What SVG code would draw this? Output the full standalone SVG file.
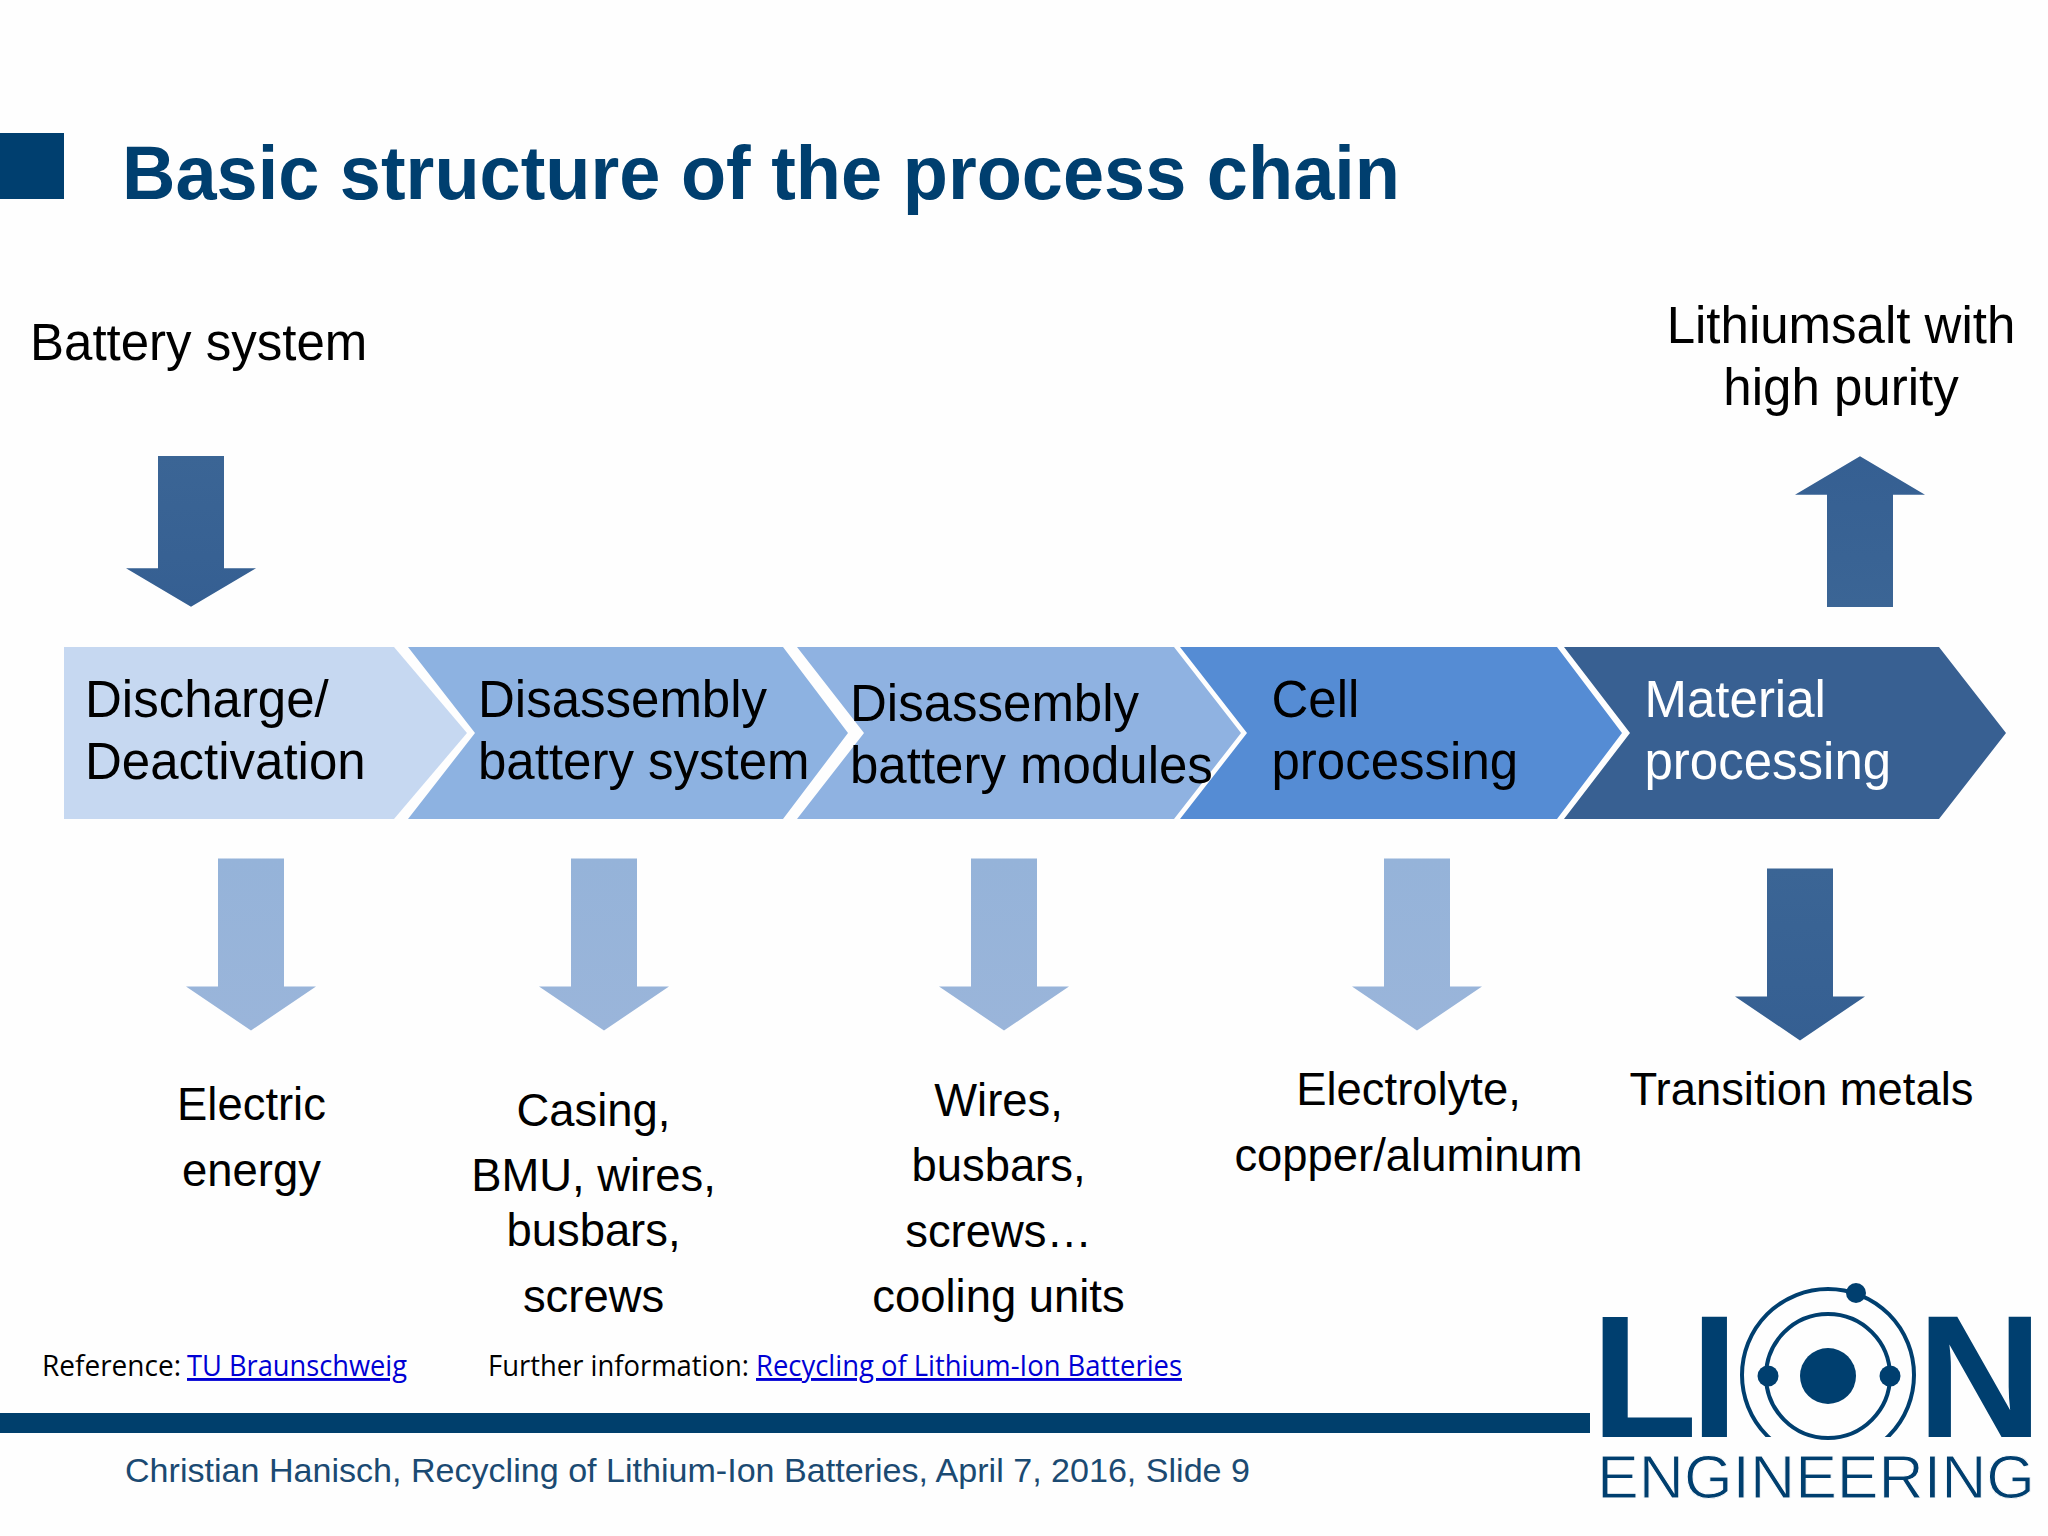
<svg xmlns="http://www.w3.org/2000/svg" width="2048" height="1536" viewBox="0 0 2048 1536">
<style>
text{font-family:"Liberation Sans",Arial,sans-serif}
.t{font-size:51px;fill:#000}
.w{font-size:51px;fill:#fff}
.l{font-size:45.4px;fill:#000;text-anchor:middle}
.f{font-family:"Open Sans","Liberation Sans",sans-serif;font-size:29px;fill:#000}
.a{fill:#0000d4;text-decoration:underline}
.dk{fill:url(#gd)}
.lt{fill:url(#gl)}
.logo{fill:#003f6f}
</style>
<defs>
<linearGradient id="gd" x1="0" y1="0" x2="0" y2="1"><stop offset="0" stop-color="#3b6595"/><stop offset="1" stop-color="#355f92"/></linearGradient>
<linearGradient id="gl" x1="0" y1="0" x2="0" y2="1"><stop offset="0" stop-color="#95b3d9"/><stop offset="1" stop-color="#9ab5da"/></linearGradient>
<path id="down" d="M-33 0H33V128H65L0 172L-65 128H-33Z"/>
<clipPath id="ringclip"><rect x="1700" y="1260" width="260" height="177"/></clipPath>
</defs>
<rect width="2048" height="1536" fill="#fefefe"/>
<g id="header">
<rect x="0" y="133" width="64" height="66" fill="#003f6f"/>
<text x="122" y="199" font-size="76" font-weight="700" fill="#003f6f" textLength="1278" lengthAdjust="spacingAndGlyphs">Basic structure of the process chain</text>
</g>
<g id="input"><text class="t" x="30" y="360">Battery system</text></g>
<g id="output"><text class="t" text-anchor="middle" x="1841" y="343">Lithiumsalt with</text><text class="t" text-anchor="middle" x="1841" y="405">high purity</text></g>
<g id="step1"><polygon fill="#c6d8f1" points="64,647 394,647 467,733 394,819 64,819"/><text class="t" x="85" y="717">Discharge/</text><text class="t" x="85" y="779">Deactivation</text></g>
<g id="step2"><polygon fill="#8db2e1" points="408,647 783,647 848,733 783,819 408,819 475,733"/><text class="t" x="478" y="717">Disassembly</text><text class="t" x="478" y="779">battery system</text></g>
<g id="step3"><polygon fill="#8fb2e1" points="797,647 1174,647 1241,733 1174,819 797,819 864,733"/><text class="t" x="850" y="721">Disassembly</text><text class="t" x="850" y="783">battery modules</text></g>
<g id="step4"><polygon fill="#558cd4" points="1180,647 1557,647 1622,733 1557,819 1180,819 1247,733"/><text class="t" x="1271.5" y="717">Cell</text><text class="t" x="1271.5" y="779">processing</text></g>
<g id="step5"><polygon fill="#386092" points="1564,647 1939,647 2006,733 1939,819 1564,819 1630,733"/><text class="w" x="1644.5" y="717">Material</text><text class="w" x="1644.5" y="779">processing</text></g>
<g id="connectors">
<use href="#down" class="dk" transform="translate(191,456) scale(1,0.877)"/>
<use href="#down" class="dk" transform="translate(1860,607) scale(1,-0.877)"/>
<use href="#down" class="lt" transform="translate(251,858.5)"/>
<use href="#down" class="lt" transform="translate(604,858.5)"/>
<use href="#down" class="lt" transform="translate(1004,858.5)"/>
<use href="#down" class="lt" transform="translate(1417,858.5)"/>
<use href="#down" class="dk" transform="translate(1800,868.5)"/>
</g>
<g id="out1"><text class="l" x="251.5" y="1120">Electric</text><text class="l" x="251.5" y="1186">energy</text></g>
<g id="out2"><text class="l" x="593.5" y="1126">Casing,</text><text class="l" x="593.5" y="1191">BMU, wires,</text><text class="l" x="593.5" y="1246">busbars,</text><text class="l" x="593.5" y="1312">screws</text></g>
<g id="out3"><text class="l" x="998.5" y="1115.5">Wires,</text><text class="l" x="998.5" y="1181">busbars,</text><text class="l" x="998.5" y="1246.5">screws…</text><text class="l" x="998.5" y="1312">cooling units</text></g>
<g id="out4"><text class="l" x="1408.5" y="1105">Electrolyte,</text><text class="l" x="1408.5" y="1171">copper/aluminum</text></g>
<g id="out5"><text class="l" x="1801.5" y="1105">Transition metals</text></g>
<g id="references">
<text class="f" x="42" y="1376" textLength="139" lengthAdjust="spacingAndGlyphs">Reference:</text>
<text class="f a" x="187" y="1376" textLength="220" lengthAdjust="spacingAndGlyphs">TU Braunschweig</text>
<text class="f" x="488" y="1376" textLength="261" lengthAdjust="spacingAndGlyphs">Further information:</text>
<text class="f a" x="756" y="1376" textLength="426" lengthAdjust="spacingAndGlyphs">Recycling of Lithium-Ion Batteries</text>
</g>
<g id="footer">
<rect x="0" y="1413" width="1590" height="20" fill="#003f6c"/>
<text x="125" y="1482" font-size="34" fill="#1b4a72" textLength="1125" lengthAdjust="spacingAndGlyphs">Christian Hanisch, Recycling of Lithium-Ion Batteries, April 7, 2016, Slide 9</text>
</g>
<g id="logo">
<text class="logo" x="1591" y="1437" font-size="174" font-weight="700" letter-spacing="-7">LI</text>
<text class="logo" x="1917" y="1437" font-size="174" font-weight="700">N</text>
<circle cx="1828" cy="1375" r="86" fill="none" stroke="#003f6f" stroke-width="4" clip-path="url(#ringclip)"/>
<circle cx="1828" cy="1376" r="62" fill="none" stroke="#003f6f" stroke-width="4"/>
<circle class="logo" cx="1828" cy="1376" r="28"/>
<circle class="logo" cx="1768" cy="1376" r="10.5"/>
<circle class="logo" cx="1890" cy="1376" r="10.5"/>
<circle class="logo" cx="1856" cy="1293" r="10"/>
<text class="logo" x="1597" y="1498" font-size="62" textLength="438" lengthAdjust="spacingAndGlyphs" stroke="#fefefe" stroke-width="1">ENGINEERING</text>
</g>
</svg>
